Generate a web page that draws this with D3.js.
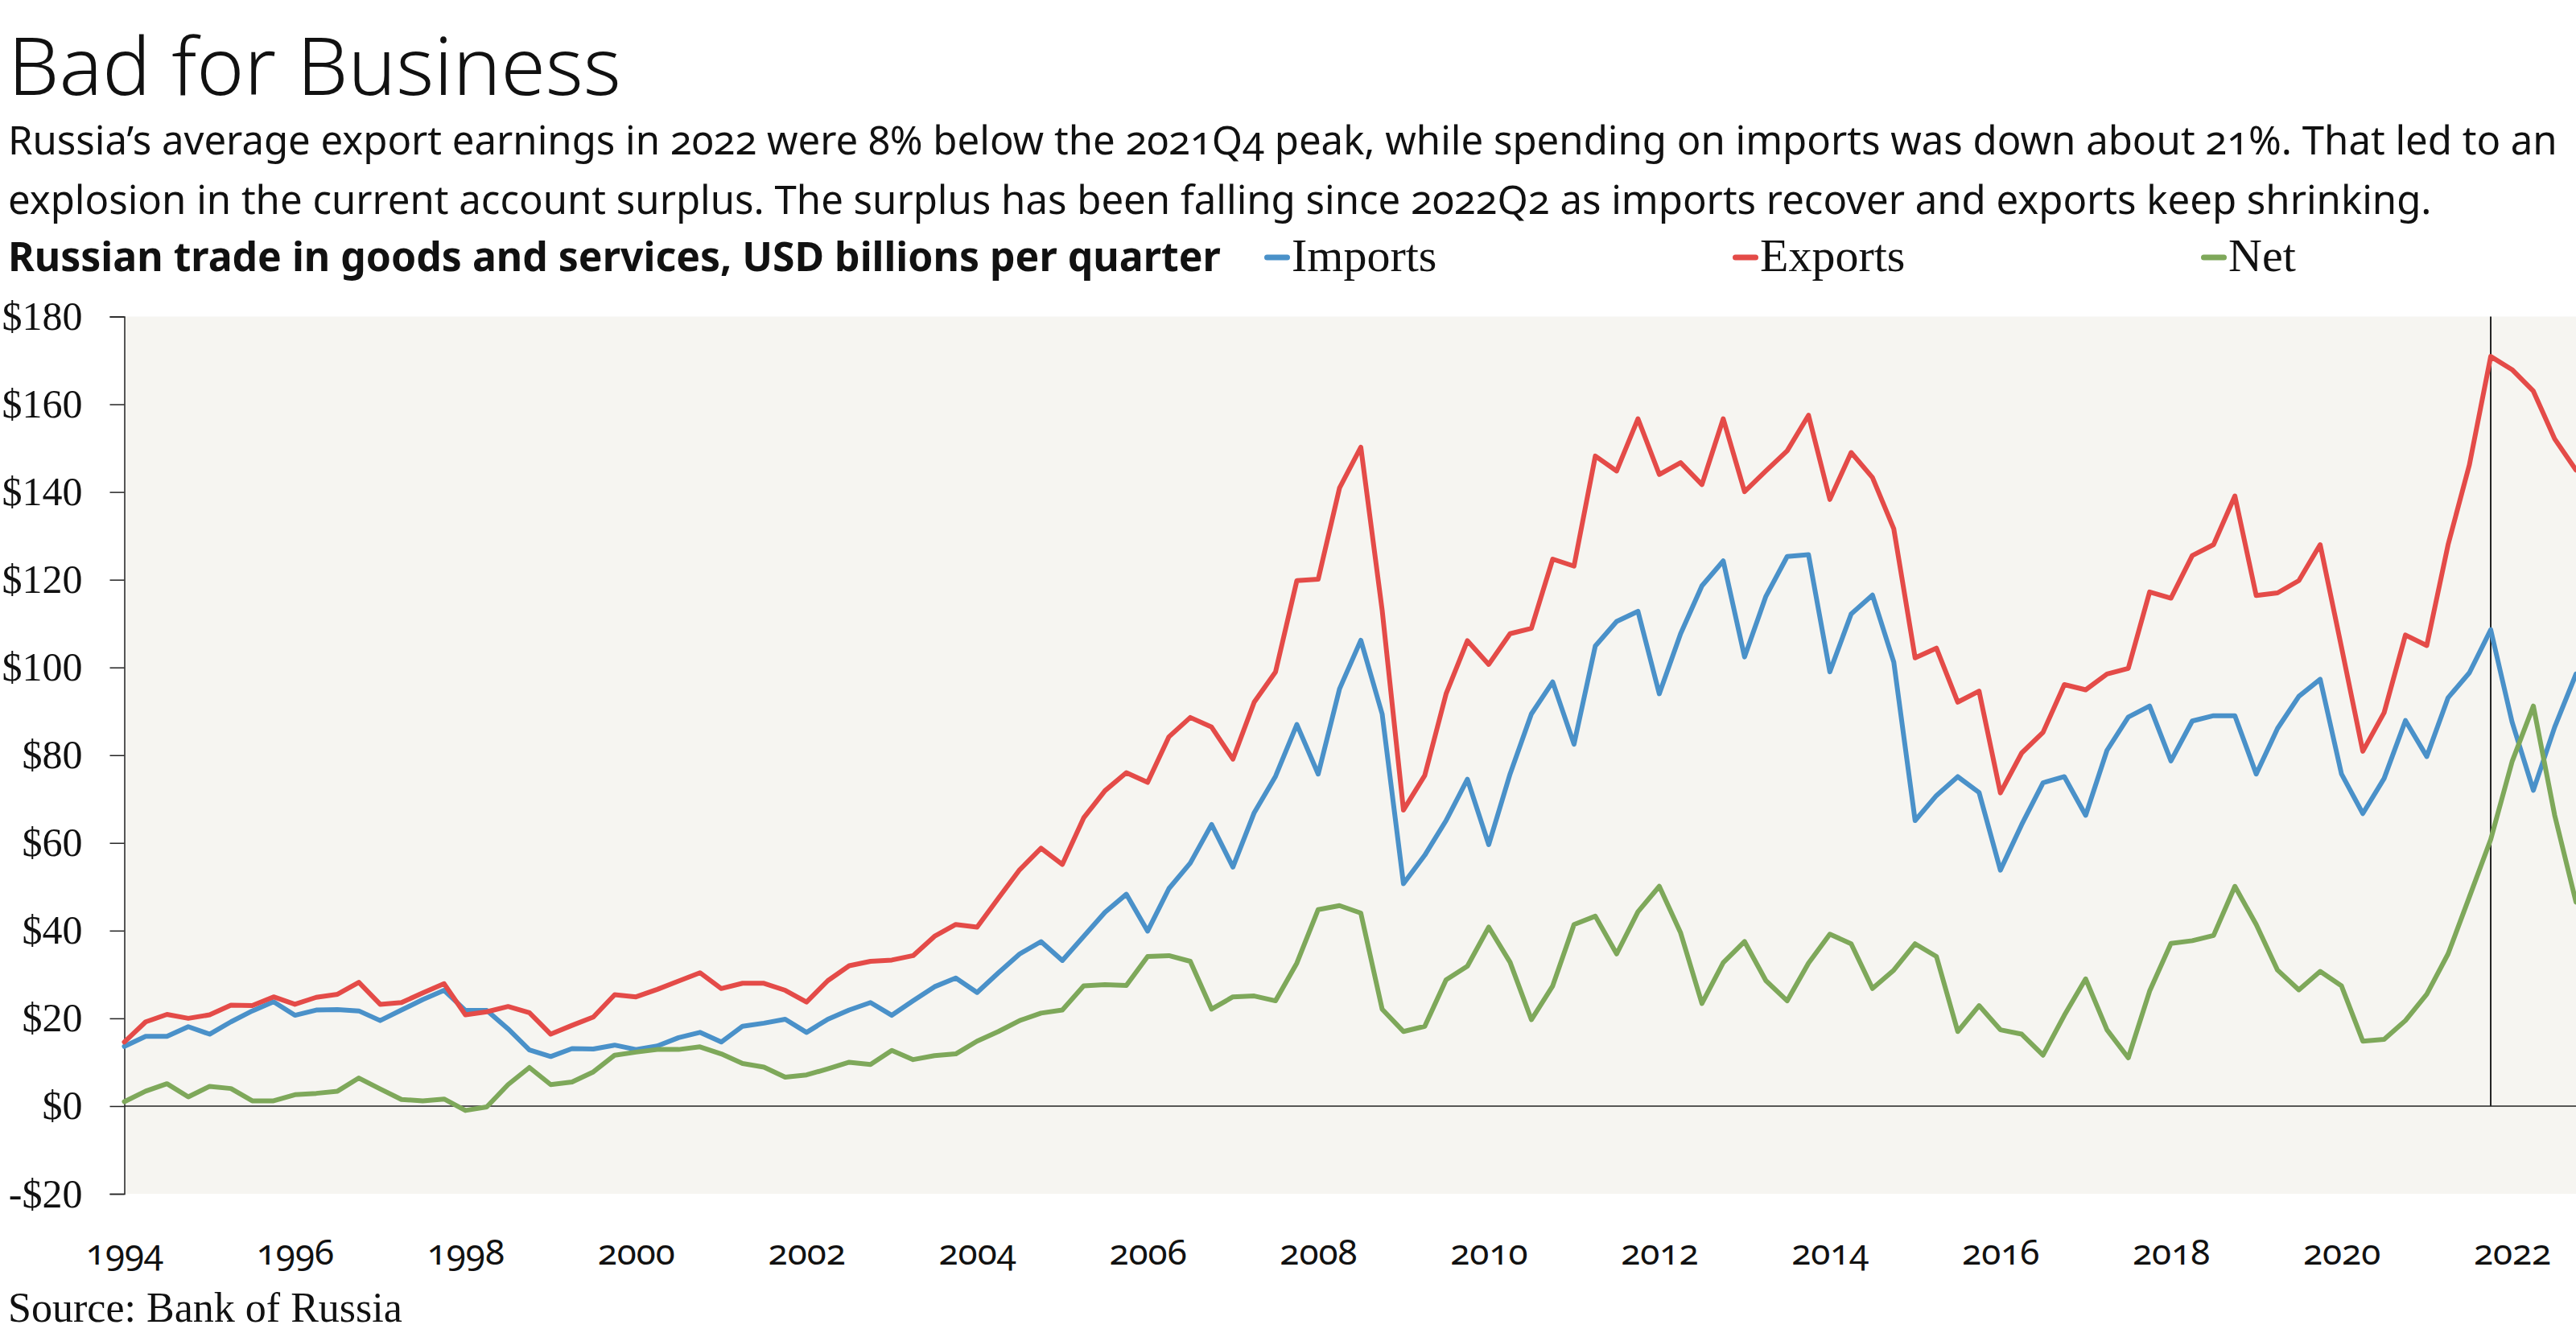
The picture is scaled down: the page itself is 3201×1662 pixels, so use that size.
<!DOCTYPE html>
<html>
<head>
<meta charset="utf-8">
<script src="https://cdn.jsdelivr.net/npm/d3@7"></script>
<style>
  html, body { margin: 0; padding: 0; background: #ffffff; }
  svg { display: block; }
  .sans { font-family: "Noto Sans", "Open Sans", sans-serif; font-variant-numeric: oldstyle-nums; }
  .serif { font-family: "Liberation Serif", "DejaVu Serif", serif; }
</style>
</head>
<body>
<svg id="chart" width="3201" height="1662"></svg>
<script>
// ---------------- DATA ----------------
const startYear = 1994;
const endYear = 2022;
const quarters = [];
for (let y = startYear; y <= endYear; y++) for (let q = 1; q <= 4; q++) quarters.push(y + "Q" + q);

const imports = [
  13.6,15.9,15.9,18.1,16.4,19.2,21.7,23.8,20.7,21.9,22.0,21.7,19.5,21.9,24.3,26.4,21.8,21.8,17.6,12.8,
  11.3,13.1,13.0,13.9,12.9,13.7,15.6,16.8,14.6,18.2,18.9,19.8,16.8,19.8,21.9,23.6,20.7,24.0,27.2,
  29.2,25.9,30.4,34.7,37.5,33.2,38.7,44.2,48.3,39.9,49.6,55.4,64.2,54.5,66.9,75.2,87.0,75.7,
  95.1,106.2,89.4,50.7,57.2,65.1,74.5,59.6,75.7,89.4,96.7,82.5,104.9,110.5,112.8,94.0,107.7,118.6,124.3,
  102.4,116.2,125.3,125.7,99.0,112.2,116.5,101.2,65.1,70.8,75.1,71.5,53.8,64.2,73.7,75.1,66.3,81.1,88.7,
  91.2,78.7,87.8,89.0,89.0,75.7,86.1,93.4,97.3,75.7,66.7,74.7,87.9,79.7,93.1,98.8,108.6,87.6,72.0,86.4,98.5
];
const exports = [
  14.6,19.2,20.9,20.0,20.8,23.0,22.9,24.9,23.2,24.8,25.5,28.2,23.2,23.6,25.8,27.9,20.8,21.5,22.7,21.3,
  16.4,18.4,20.3,25.4,24.9,26.6,28.5,30.4,26.8,28.0,28.0,26.4,23.7,28.6,32.0,33.0,33.3,34.3,38.7,
  41.4,40.8,47.4,53.9,58.8,55.1,65.7,71.9,76.0,73.8,84.2,88.6,86.4,79.1,92.1,99.0,119.8,120.1,
  140.9,150.2,113.1,67.5,75.4,94.0,106.1,100.7,107.7,108.9,124.7,123.1,148.2,144.8,156.7,144.0,146.7,141.7,156.7,
  140.1,144.8,149.4,157.5,138.3,149.0,143.3,131.6,102.2,104.4,92.1,94.6,71.4,80.5,85.2,96.1,94.9,98.5,99.8,
  117.2,115.8,125.5,128.0,139.1,116.4,117.0,119.8,128.0,104.6,80.9,89.7,107.4,105.0,128.0,146.2,170.9,167.9,163.0,152.1,145.0
];
const net = [
  1.0,3.4,5.1,2.1,4.5,4.0,1.2,1.2,2.6,2.9,3.4,6.4,3.9,1.5,1.2,1.6,-1.0,-0.2,4.9,8.8,
  4.9,5.5,7.8,11.6,12.3,12.9,12.9,13.5,11.9,9.7,8.9,6.6,7.1,8.5,10.0,9.5,12.7,10.6,11.5,
  11.9,14.8,17.0,19.5,21.2,21.9,27.4,27.7,27.5,34.1,34.3,33.0,22.1,24.9,25.1,24.0,32.6,44.8,
  45.7,44.0,22.1,17.0,18.2,28.8,31.9,40.8,32.8,19.7,27.4,41.4,43.3,34.7,44.3,50.1,39.5,23.4,32.7,
  37.5,28.6,24.0,32.6,39.2,37.0,26.8,31.0,37.0,34.1,17.0,22.9,17.4,16.4,11.6,20.7,29.0,17.4,11.0,
  26.2,37.1,37.7,38.9,50.1,41.4,31.0,26.5,30.7,27.4,14.8,15.2,19.5,25.5,34.7,47.7,60.8,78.5,91.2,66.3,46.5
];
const seriesNames = ["Imports", "Exports", "Net"];
const seriesColors = ["#4a91c9", "#e44b48", "#7ea85a"];
const yTicks = [-20, 0, 20, 40, 60, 80, 100, 120, 140, 160, 180];
const xTickYears = [1994,1996,1998,2000,2002,2004,2006,2008,2010,2012,2014,2016,2018,2020,2022];
const markerQuarter = "2021Q4";

const title = "Bad for Business";
const subtitle1 = "Russia\u2019s average export earnings in 2022 were 8% below the 2021Q4 peak, while spending on imports was down about 21%. That led to an";
const subtitle2 = "explosion in the current account surplus. The surplus has been falling since 2022Q2 as imports recover and exports keep shrinking.";
const chartLabel = "Russian trade in goods and services, USD billions per quarter";
const source = "Source: Bank of Russia";

// ---------------- LAYOUT ----------------
const W = 3201, H = 1662;
const plot = { left: 154.5, right: 3201, top: 393.5, bottom: 1484 };
const svg = d3.select("#chart");

function fitWidth(sel, target) {
  const w = sel.node().getComputedTextLength();
  const fs = parseFloat(sel.attr("font-size"));
  sel.attr("font-size", fs * target / w);
  return fs * target / w;
}

// Titles
const t = svg.append("text").attr("class", "sans").attr("x", 10).attr("y", 118)
  .attr("font-size", 100).attr("font-weight", 300).attr("fill", "#111").text(title);
fitWidth(t, 762);

const s1 = svg.append("text").attr("class", "sans").attr("x", 10).attr("y", 192)
  .attr("font-size", 50).attr("fill", "#111").text(subtitle1);
const sfs = fitWidth(s1, 3168);
svg.append("text").attr("class", "sans").attr("x", 10).attr("y", 266)
  .attr("font-size", sfs).attr("fill", "#111").text(subtitle2);

const cl = svg.append("text").attr("class", "sans").attr("x", 10).attr("y", 337)
  .attr("font-size", 50).attr("font-weight", 700).attr("fill", "#111").text(chartLabel);
fitWidth(cl, 1507);

// Legend
const legendX = [1571, 2153, 2735];
seriesNames.forEach((name, i) => {
  svg.append("line").attr("x1", legendX[i] + 3.5).attr("x2", legendX[i] + 28.5)
    .attr("y1", 320).attr("y2", 320)
    .attr("stroke", seriesColors[i]).attr("stroke-width", 7).attr("stroke-linecap", "round");
  svg.append("text").attr("class", "serif").attr("x", legendX[i] + 34).attr("y", 337)
    .attr("font-size", 58).attr("fill", "#111").text(name);
});

// Scales
const x = d3.scalePoint().domain(quarters).range([plot.left, plot.right]);
const y = d3.scaleLinear().domain([-20, 180]).range([plot.bottom, plot.top]);

// Plot background
svg.append("rect").attr("x", plot.left).attr("y", plot.top)
  .attr("width", plot.right - plot.left).attr("height", plot.bottom - plot.top)
  .attr("fill", "#f6f5f1");

// Y axis
const yAxis = d3.axisLeft(y).tickValues(yTicks).tickSize(18).tickPadding(34)
  .tickFormat(d => (d < 0 ? "-$" : "$") + Math.abs(d));
const gy = svg.append("g").attr("transform", `translate(${plot.left},0)`).call(yAxis);
gy.select(".domain").attr("stroke", "#222").attr("stroke-width", 1.5);
gy.selectAll(".tick line").attr("stroke", "#222").attr("stroke-width", 1.5);
gy.selectAll(".tick text").attr("class", "serif").attr("font-size", 50).attr("fill", "#111")
  .attr("font-family", "Liberation Serif, serif");

// X axis labels (no ticks / line)
const xAxis = d3.axisBottom(x).tickValues(xTickYears.map(yr => yr + "Q1"))
  .tickSize(0).tickPadding(0).tickFormat(d => d.slice(0, 4));
const gx = svg.append("g").attr("transform", `translate(0,${1572})`).call(xAxis);
gx.select(".domain").remove();
gx.selectAll(".tick text").attr("class", "sans").attr("font-size", 44).attr("fill", "#111")
  .attr("dy", 0).attr("y", 0).attr("font-family", "Noto Sans, sans-serif");

// Zero line
svg.append("line").attr("x1", plot.left).attr("x2", plot.right)
  .attr("y1", y(0)).attr("y2", y(0)).attr("stroke", "#222").attr("stroke-width", 1.5);

// Vertical marker line
svg.append("line").attr("x1", x(markerQuarter)).attr("x2", x(markerQuarter))
  .attr("y1", y(180)).attr("y2", y(0)).attr("stroke", "#222").attr("stroke-width", 2);

// Lines
const line = d3.line().x((d, i) => x(quarters[i])).y(d => y(d));
[imports, exports, net].forEach((vals, i) => {
  svg.append("path").datum(vals).attr("d", line)
    .attr("fill", "none").attr("stroke", seriesColors[i]).attr("stroke-width", 6)
    .attr("stroke-linejoin", "round").attr("stroke-linecap", "round");
});

// Source
const src = svg.append("text").attr("class", "serif").attr("x", 10).attr("y", 1643)
  .attr("font-size", 50).attr("fill", "#111").text(source);
fitWidth(src, 490);
</script>
</body>
</html>
